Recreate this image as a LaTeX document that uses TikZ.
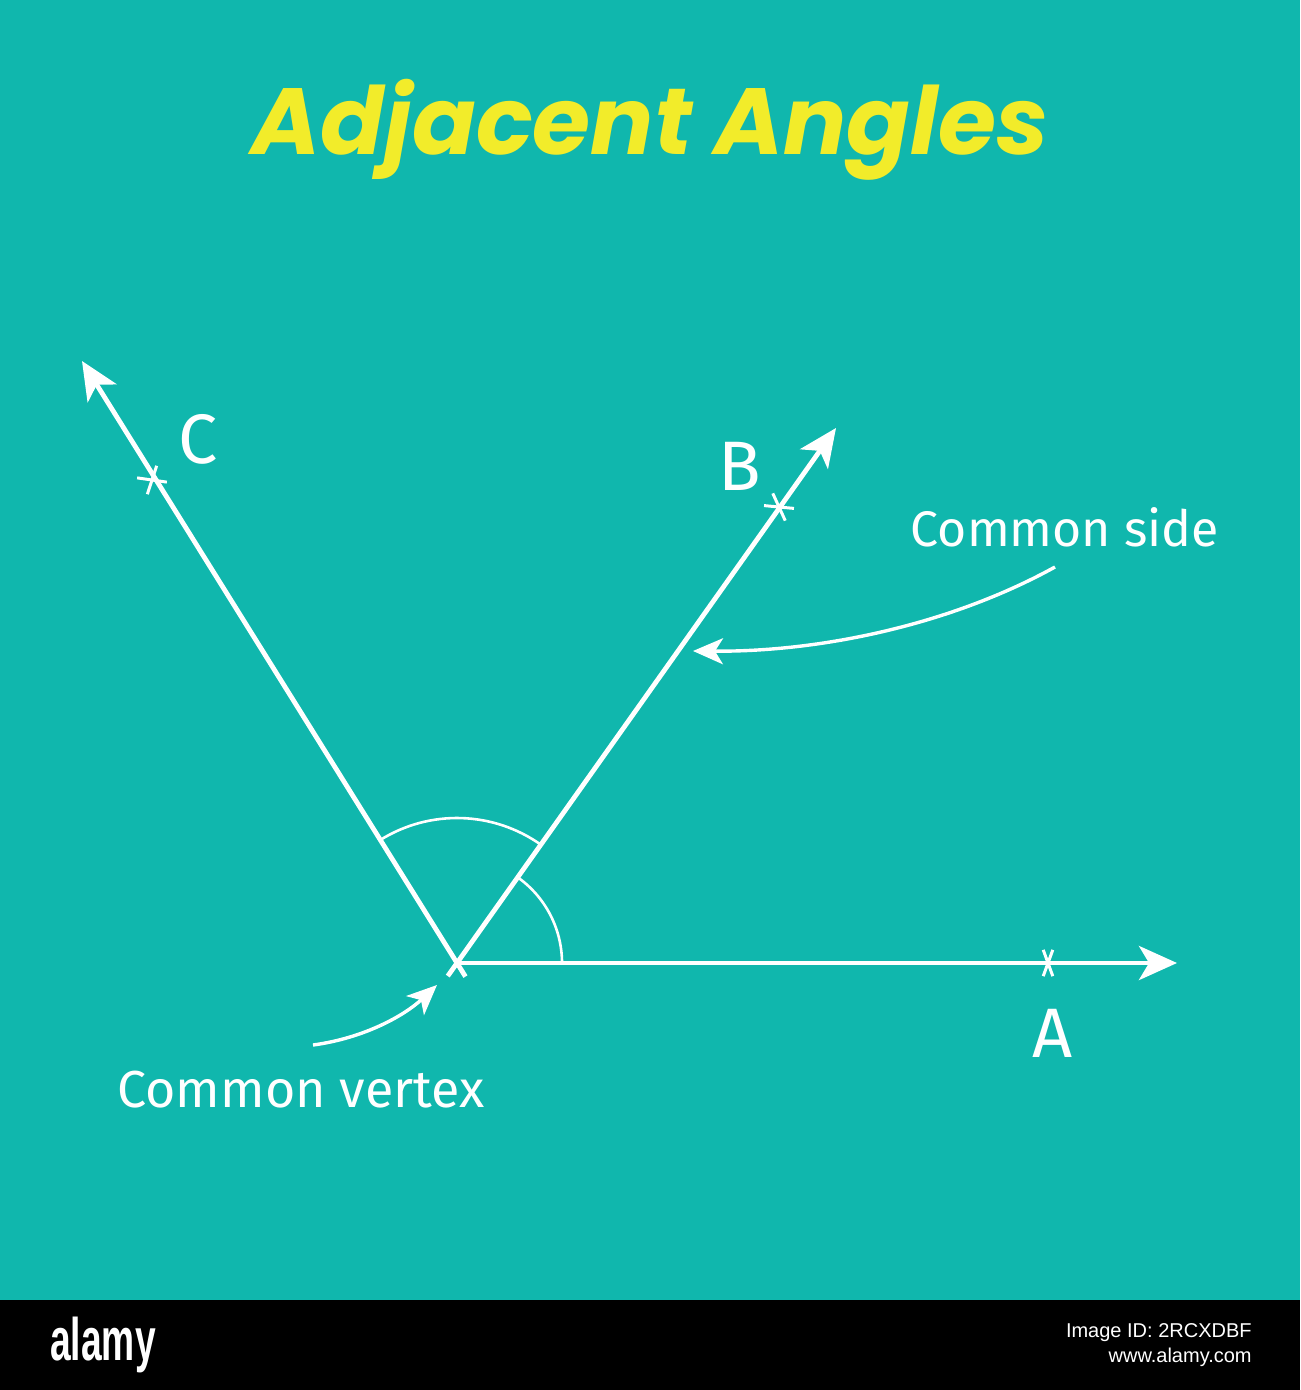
\documentclass[tikz,border=0pt]{standalone}
\usepackage{fontspec}
\setmainfont{Fira Sans}
\newfontfamily\titlefont{Poppins}
\newfontfamily\logofont{Liberation Sans}
\usetikzlibrary{arrows.meta,calc}
\definecolor{bgteal}{HTML}{10B7AD}
\definecolor{titleyellow}{HTML}{F2EC2A}
\tikzset{
  ray/.style={draw=white, line width=2.4pt, -{Stealth[length=19pt,width=17pt,inset=5pt]}},
  anglearc/.style={draw=white, line width=1.3pt},
  pointer/.style={draw=white, line width=1.7pt, -{Stealth[length=15pt,width=13pt,inset=4pt]}},
  ptlabel/.style={text=white, font=\fontsize{35}{40}\selectfont, inner sep=0pt},
  note/.style={text=white, font=\fontsize{25}{30}\selectfont, inner sep=0pt},
  tickmark/.style={draw=white, line width=1.5pt},
  barnote/.style={text=white, font=\logofont\fontsize{10}{12}\selectfont, inner sep=0pt, anchor=east},
}
\begin{document}
\begin{tikzpicture}[x=0.5pt,y=-0.5pt]
\fill[bgteal] (0,0) rectangle (1300,1300);
\fill[black] (0,1300) rectangle (1300,1390);
\useasboundingbox (0,0) rectangle (1300,1390);

\node[text=titleyellow, font=\titlefont\bfseries\itshape\fontsize{47}{56}\selectfont, inner sep=0pt] (title) at (650,130) {Adjacent Angles};

\coordinate (O) at (457,963);
\coordinate (Atip) at (1177,963);
\coordinate (Btip) at (836,428);
\coordinate (Ctip) at (82,361);
\coordinate (Amark) at (1048,963);
\coordinate (Bmark) at (779,507);
\coordinate (Cmark) at (152,480);
\coordinate (Bstart) at ($(O)!-8pt!(Btip)$);
\coordinate (Cstart) at ($(O)!-8pt!(Ctip)$);

% angle arcs
\draw[anglearc] (O) ++(-54.6:145) arc[start angle=-54.6, end angle=-121.9, radius=145];
\draw[anglearc] (O) ++(0:105) arc[start angle=0, end angle=-54.6, radius=105];

% rays
\draw[ray] (O) -- (Atip);
\draw[ray] (Bstart) -- (Btip);
\draw[ray] (Cstart) -- (Ctip);

% tick marks
\draw[tickmark] (Amark) ++(70:14) -- ++(250:28);
\draw[tickmark] (Amark) ++(-70:14) -- ++(110:28);
\draw[tickmark] (Bmark) ++(5.4:15) -- ++(185.4:30);
\draw[tickmark] (Bmark) ++(-114.6:15) -- ++(65.4:30);
\draw[tickmark] (Cmark) ++(-71.9:15) -- ++(108.1:30);
\draw[tickmark] (Cmark) ++(-171.9:15) -- ++(8.1:30);

% point labels
\node[ptlabel] (labA) at (1053,1033) {A};
\node[ptlabel] (labB) at (740,466) {B};
\node[ptlabel] (labC) at (198,439) {C};

% notes
\node[note] (side) at (1065,527) {Common side};
\node[note, font=\fontsize{26}{30}\selectfont] (vertex) at (301,1090) {Common vertex};
\coordinate (sideStart) at (1055,567);
\coordinate (sideEnd) at (693,651);
\coordinate (vertexStart) at (313,1045);
\coordinate (vertexEnd) at (437,985);
\draw[pointer] (sideStart) .. controls (950,625) and (820,652) .. (sideEnd);
\draw[pointer] (vertexStart) .. controls (365,1038) and (405,1015) .. (vertexEnd);

% bottom bar
\node[text=white, font=\logofont\bfseries\fontsize{30}{32}\selectfont, inner sep=0pt, anchor=base west, xscale=0.62] (logo) at (50,1360) {alamy};
\node[barnote] (imgid) at (1252,1333) {Image ID: 2RCXDBF};
\node[barnote] (site) at (1252,1357) {www.alamy.com};
\end{tikzpicture}
\end{document}
